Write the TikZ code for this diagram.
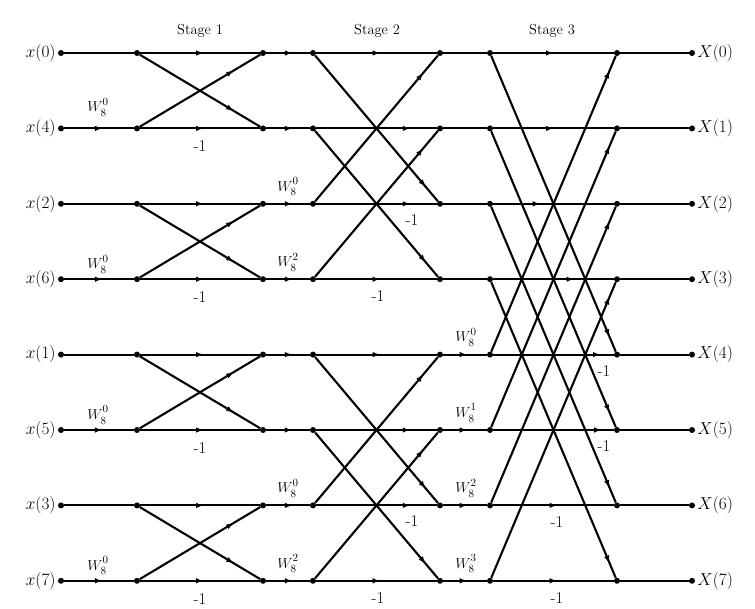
\documentclass[tikz,border=0pt]{standalone}
\usetikzlibrary{arrows.meta,decorations.markings}
\newcommand{\twid}[1]{$W^{\raisebox{1.2pt}{$\scriptstyle #1$}}_{\raisebox{-1.2pt}{$\scriptstyle 8$}}$}
\begin{document}
\begin{tikzpicture}[x=1pt,y=-1pt,
  dot/.style={circle,fill,inner sep=0pt,minimum size=6pt},
  wire/.style={line width=2.1pt},
  arr/.style={postaction={decorate,decoration={markings,mark=at position #1 with {\arrow{Latex[length=7.5pt,width=5.5pt]}}}}},
  lbl/.style={font=\fontsize{17}{20}\selectfont,inner sep=1pt},
  wl/.style={font=\fontsize{15}{17}\selectfont,inner sep=0pt},
  ml/.style={font=\fontsize{16.5}{18}\selectfont,inner sep=0pt},
  stg/.style={font=\fontsize{14.5}{16}\selectfont,inner sep=0pt},
  ]
\useasboundingbox (0,0) rectangle (755,609);

% grid of dots
\foreach \c/\x in {0/61,1/137,2/263,3/313,4/440,5/490,6/617,7/692}
  \foreach \r in {0,...,7}
    \node[dot] (n\c\r) at (\x, {53+75.4*\r}) {};

% stage titles
\node[stg] (s1) at (200,31) {Stage 1};
\node[stg] (s2) at (377,31) {Stage 2};
\node[stg] (s3) at (552,31) {Stage 3};

% input / output labels
\foreach \r/\k in {0/0,1/4,2/2,3/6,4/1,5/5,6/3,7/7}
  \node[lbl,anchor=east] (in\r) at ([xshift=-1pt]n0\r.west) {$x(\k)$};
\foreach \r in {0,...,7}
  \node[lbl,anchor=west] (out\r) at ([xshift=1pt]n7\r.east) {$X(\r)$};

% inputs
\foreach \r in {0,2,4,6} \draw[wire] (n0\r) -- (n1\r);
\foreach \r in {1,3,5,7} \draw[wire,arr=0.55] (n0\r) -- (n1\r);

% stage 1
\foreach \r in {0,...,7} \draw[wire,arr=0.53] (n1\r) -- (n2\r);
\foreach \a/\b in {0/1,2/3,4/5,6/7} {
  \draw[wire,arr=0.78] (n1\a) -- (n2\b);
  \draw[wire,arr=0.78] (n1\b) -- (n2\a);
}
\foreach \r in {0,...,7} \draw[wire,arr=0.6] (n2\r) -- (n3\r);

% stage 2
\foreach \r in {0,3,4,7} \draw[wire,arr=0.53] (n3\r) -- (n4\r);
\foreach \r in {1,2,5,6} \draw[wire,arr=0.78] (n3\r) -- (n4\r);
\foreach \a/\b in {0/2,1/3,4/6,5/7} {
  \draw[wire,arr=0.9] (n3\a) -- (n4\b);
  \draw[wire,arr=0.88] (n3\b) -- (n4\a);
}
\foreach \r in {0,...,3} \draw[wire] (n4\r) -- (n5\r);
\foreach \r in {4,...,7} \draw[wire,arr=0.55] (n4\r) -- (n5\r);

% stage 3
\foreach \r/\p in {0/0.5,1/0.5,2/0.39,3/0.67,4/0.89,5/0.9,6/0.53,7/0.53}
  \draw[wire,arr=\p] (n5\r) -- (n6\r);
\foreach \a/\b in {0/4,1/5,2/6,3/7} {
  \draw[wire,arr=0.95] (n5\a) -- (n6\b);
  \draw[wire,arr=0.95] (n5\b) -- (n6\a);
}
\foreach \r in {0,...,7} \draw[wire] (n6\r) -- (n7\r);

% twiddle labels
\foreach \r/\d in {1/21,3/15,5/15,7/15}
  \node[wl] (wa\r) at (98, {53+75.4*\r-\d}) {\twid{0}};
\foreach \r/\k in {2/0,3/2,6/0,7/2}
  \node[wl] (wb\r) at (288, {53+75.4*\r-17}) {\twid{\k}};
\foreach \r/\k in {4/0,5/1,6/2,7/3}
  \node[wl] (wc\r) at (466, {53+75.4*\r-17}) {\twid{\k}};

% -1 labels
\foreach \r in {1,3,5,7}
  \node[ml] (ma\r) at (200, {53+75.4*\r+18}) {-1};
\foreach \r in {2,6}
  \node[ml] (mb\r) at (412, {53+75.4*\r+16}) {-1};
\foreach \r in {3,7}
  \node[ml] (mc\r) at (378, {53+75.4*\r+17}) {-1};
\foreach \r in {4,5}
  \node[ml] (md\r) at (604, {53+75.4*\r+16}) {-1};
\foreach \r in {6,7}
  \node[ml] (me\r) at (557, {53+75.4*\r+17}) {-1};
\end{tikzpicture}
\end{document}
